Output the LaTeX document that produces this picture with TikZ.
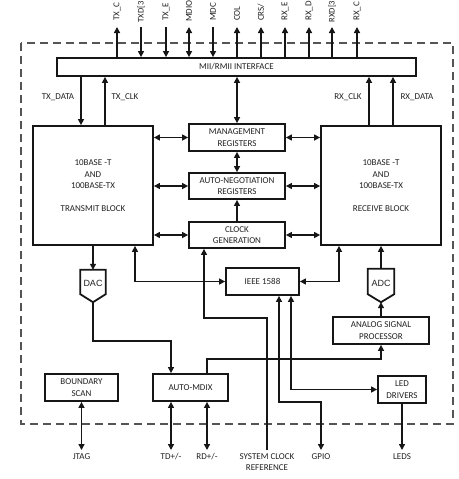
\documentclass[tikz,border=0pt]{standalone}
\usepackage{fontspec}
\setmainfont{Carlito}
\newfontfamily\arialf{Liberation Sans}
\usetikzlibrary{arrows.meta}
\definecolor{ink}{HTML}{161616}
\definecolor{txt}{HTML}{222222}
\definecolor{dash}{HTML}{555555}
\begin{document}
\begin{tikzpicture}[x=1pt,y=-1pt,
  >={Triangle[length=6pt,width=6pt]},
  blk/.style={draw=ink, line width=1.8pt, inner sep=0pt, align=center, text=txt,
    font=\fontsize{9}{11.5}\selectfont},
  conn/.style={draw=ink, line width=1.4pt},
  lbl/.style={text=txt, inner sep=1pt, align=center, font=\fontsize{9}{11}\selectfont},
  toplbl/.style={text=txt, rotate=90, anchor=west, inner xsep=6pt, inner ysep=1pt,
    font=\fontsize{9}{11}\selectfont},
  botlbl/.style={text=txt, anchor=north, inner xsep=1pt, inner ysep=3pt, align=center,
    font=\fontsize{9}{11}\selectfont},
  conv/.style={draw=ink, line width=1.8pt, line join=miter}
]
\useasboundingbox (0,0) rectangle (458,479);
\fill[white] (0,0) rectangle (458,479);

% dashed chip outline
\draw[draw=dash, line width=1.4pt, dash pattern=on 8pt off 5pt] (21,43) rectangle (453,424);

% blocks
\node[blk, fill=white, minimum width=359pt, minimum height=18pt] (mii) at (236.5,67) {MII/RMII INTERFACE};
\node[blk, minimum width=120pt, minimum height=119pt] (tx) at (93,185.5)
  {10BASE -T\\AND\\100BASE-TX\\[11pt]TRANSMIT BLOCK};
\node[blk, minimum width=120pt, minimum height=119pt] (rx) at (381,185.5)
  {10BASE -T\\AND\\100BASE-TX\\[11pt]RECEIVE BLOCK};
\node[blk, minimum width=96pt, minimum height=27pt] (mgmt) at (237,137.5) {MANAGEMENT\\REGISTERS};
\node[blk, minimum width=96pt, minimum height=26pt] (aneg) at (237,186) {AUTO-NEGOTIATION\\REGISTERS};
\node[blk, minimum width=96pt, minimum height=26pt] (clk) at (237,235) {CLOCK\\GENERATION};
\node[blk, minimum width=73pt, minimum height=27pt] (ieee) at (262.5,281.5) {IEEE 1588};
\node[blk, minimum width=96pt, minimum height=27pt] (asp) at (381,330.5) {ANALOG SIGNAL\\PROCESSOR};
\node[blk, minimum width=48pt, minimum height=27pt] (led) at (402,389.5) {LED\\DRIVERS};
\node[blk, minimum width=75pt, minimum height=27pt] (mdix) at (190.5,387.5) {AUTO-MDIX};
\node[blk, minimum width=73pt, minimum height=27pt] (bscan) at (81.5,387.5) {BOUNDARY\\SCAN};

% converters
\node[minimum width=25pt, minimum height=32pt, inner sep=0pt] (dac) at (93,286) {};
\draw[conv] (dac.north west) -- (dac.north east) -- ([yshift=8pt]dac.south east) -- (dac.south)
  -- ([yshift=8pt]dac.south west) -- cycle;
\node[text=txt, inner sep=0pt, font=\arialf\fontsize{9}{10}\selectfont] (daclbl) at (93,283) {DAC};
\node[minimum width=26pt, minimum height=33pt, inner sep=0pt] (adc) at (381,285.5) {};
\draw[conv] (adc.north west) -- (adc.north east) -- ([yshift=8pt]adc.south east) -- (adc.south)
  -- ([yshift=8pt]adc.south west) -- cycle;
\node[text=txt, inner sep=0pt, font=\arialf\fontsize{9}{10}\selectfont] (adclbl) at (381,283) {ADC};

% top pin labels
\node[toplbl] (t1) at (117,27) {TX\_C};
\node[toplbl, inner xsep=4.5pt, font=\fontsize{8.6}{10}\selectfont] (t2) at (141,27) {TXD[3};
\node[toplbl] (t3) at (166,27) {TX\_E};
\node[toplbl, inner xsep=5pt] (t4) at (189,27) {MDIO};
\node[toplbl] (t5) at (213,27) {MDC};
\node[toplbl] (t6) at (237,27) {COL};
\node[toplbl] (t7) at (261,27) {CRS/};
\node[toplbl] (t8) at (285,27) {RX\_E};
\node[toplbl] (t9) at (309,27) {RX\_D};
\node[toplbl, inner xsep=4.5pt, font=\fontsize{8.6}{10}\selectfont] (t10) at (332,27) {RXD[3};
\node[toplbl] (t11) at (357,27) {RX\_C};

\draw[conn,->] (mii.north -| t1.west) -- (t1.west);
\draw[conn,->] (t2.west) -- (mii.north -| t2.west);
\draw[conn,->] (t3.west) -- (mii.north -| t3.west);
\draw[conn,<->] (t4.west) -- (mii.north -| t4.west);
\draw[conn,->] (t5.west) -- (mii.north -| t5.west);
\draw[conn,->] (mii.north -| t6.west) -- (t6.west);
\draw[conn,->] (mii.north -| t7.west) -- (t7.west);
\draw[conn,->] (mii.north -| t8.west) -- (t8.west);
\draw[conn,->] (mii.north -| t9.west) -- (t9.west);
\draw[conn,->] (mii.north -| t10.west) -- (t10.west);
\draw[conn,->] (mii.north -| t11.west) -- (t11.west);

% MII to blocks
\coordinate (xTXD) at (81,0);
\coordinate (xTXC) at (105,0);
\coordinate (xRXC) at (369,0);
\coordinate (xRXD) at (393,0);
\draw[conn,->] (mii.south -| xTXD) -- (tx.north -| xTXD);
\draw[conn,->] (tx.north -| xTXC) -- (mii.south -| xTXC);
\draw[conn,->] (rx.north -| xRXC) -- (mii.south -| xRXC);
\draw[conn,->] (rx.north -| xRXD) -- (mii.south -| xRXD);
\draw[conn,<->] (mii.south -| mgmt.north) -- (mgmt.north);
\node[lbl] (ltxd) at (58,97) {TX\_DATA};
\node[lbl] (ltxc) at (125,97) {TX\_CLK};
\node[lbl] (lrxc) at (348,97) {RX\_CLK};
\node[lbl] (lrxd) at (417,97) {RX\_DATA};

% blocks to registers
\draw[conn,<->] (tx.east |- mgmt) -- (mgmt.west);
\draw[conn,<->] (tx.east |- aneg) -- (aneg.west);
\draw[conn,<->] (tx.east |- clk) -- (clk.west);
\draw[conn,<->] (mgmt.east) -- (rx.west |- mgmt);
\draw[conn,<->] (aneg.east) -- (rx.west |- aneg);
\draw[conn,<->] (clk.east) -- (rx.west |- clk);
\draw[conn,<->] (mgmt.south) -- (aneg.north);
\draw[conn,->] (clk.north) -- (aneg.south);

% bottom labels
\node[botlbl] (jtag) at (81.5,450) {JTAG};
\node[botlbl] (td) at (171,450) {TD+/-};
\node[botlbl] (rd) at (207,450) {RD+/-};
\node[botlbl] (sysclk) at (267,450) {SYSTEM CLOCK\\REFERENCE};
\node[botlbl] (gpio) at (321,450) {GPIO};
\node[botlbl] (leds) at (402,450) {LEDS};

% lower connections
\coordinate (xA) at (135,0);
\coordinate (xB) at (339,0);
\coordinate (xD) at (204,0);
\coordinate (xE) at (279,0);
\coordinate (xF) at (291,0);
\coordinate (k1) at (267,318);
\coordinate (k2) at (321,402);
\coordinate (k3) at (171,341);
\coordinate (k4) at (381,359);

\draw[conn,->] (tx.south -| dac.north) -- (dac.north);
\draw[conn,<->] (tx.south -| xA) |- (ieee.west);
\draw[conn,<->] (rx.south -| xB) |- (ieee.east);
\draw[conn,->] (sysclk.north) -- (k1) -| (clk.south -| xD);
\draw[conn,<->] (ieee.south -| xE) |- (k2) -- (gpio.north);
\draw[conn,<->] (ieee.south -| xF) |- (led.west);
\draw[conn,->] (led.south) -- (leds.north);
\draw[conn,->] (dac.south) |- (k3) -- (mdix.north -| k3);
\draw[conn,->] (mdix.north -| rd.north) |- (k4) -- (asp.south);
\draw[conn,->] (asp.north) -- (adc.south);
\draw[conn,->] (adc.north) -- (rx.south -| adc.north);
\draw[conn,<->] (bscan.south) -- (jtag.north);
\draw[conn,<->] (mdix.south -| td.north) -- (td.north);
\draw[conn,<->] (mdix.south -| rd.north) -- (rd.north);
\end{tikzpicture}
\end{document}
